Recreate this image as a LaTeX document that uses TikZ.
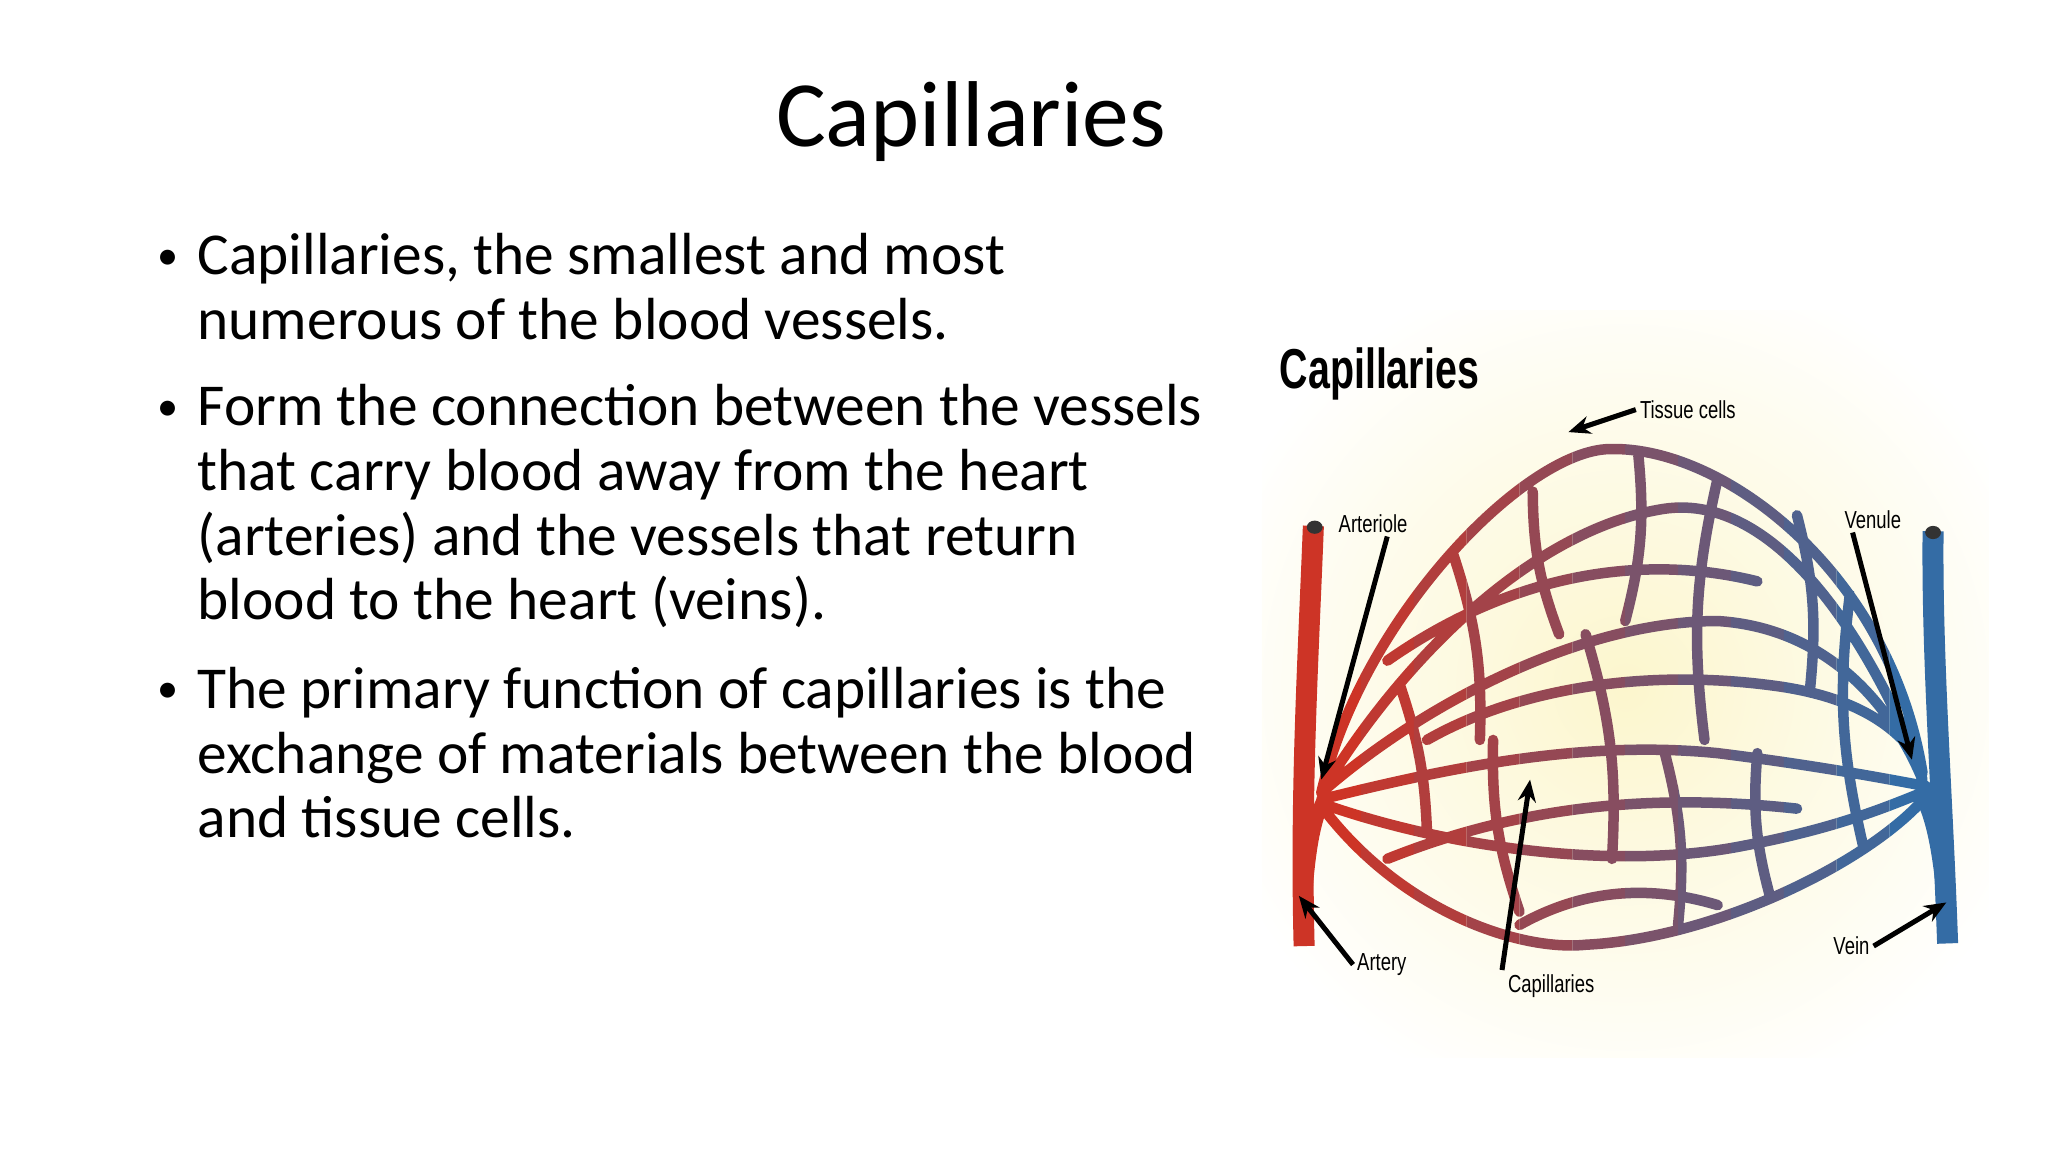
\documentclass[tikz,border=0pt]{standalone}
\usepackage{fontspec}
\setmainfont{Carlito}
\newfontfamily\figfont{Liberation Sans}
\usetikzlibrary{arrows.meta}
\definecolor{bloodred}{RGB}{205,52,38}
\definecolor{bloodblue}{RGB}{52,108,165}
\definecolor{glow}{RGB}{252,246,205}
\newcommand{\network}{%
  (1000,600) .. controls (1030,470) and (1150,345) .. (1215,340) .. controls (1300,335) and (1430,430) .. (1455,585)
  (1000,610) .. controls (1060,690) and (1150,720) .. (1200,715) .. controls (1300,710) and (1420,650) .. (1460,600)
  (1000,600) .. controls (1060,500) and (1160,400) .. (1260,385) .. controls (1330,375) and (1400,450) .. (1455,585)
  (1000,600) .. controls (1080,530) and (1200,470) .. (1300,470) .. controls (1380,475) and (1430,530) .. (1455,590)
  (1000,605) .. controls (1100,580) and (1200,560) .. (1300,570) .. controls (1380,580) and (1430,590) .. (1458,595)
  (1000,608) .. controls (1090,640) and (1220,660) .. (1320,640) .. controls (1400,625) and (1440,605) .. (1460,598)
  (1050,500) .. controls (1150,430) and (1250,420) .. (1330,440)
  (1080,560) .. controls (1150,520) and (1250,505) .. (1350,520) .. controls (1400,528) and (1425,545) .. (1440,560)
  (1050,650) .. controls (1150,610) and (1250,600) .. (1360,612)
  (1150,700) .. controls (1200,672) and (1250,670) .. (1300,685)
  (1100,420) to[bend left=10] (1120,560)
  (1160,372) to[bend right=10] (1180,480)
  (1240,345) to[bend left=10] (1230,470)
  (1300,362) to[bend right=10] (1290,560)
  (1360,390) to[bend left=10] (1370,520)
  (1400,450) to[bend right=10] (1410,640)
  (1200,480) to[bend left=10] (1220,650)
  (1130,560) to[bend right=10] (1150,690)
  (1260,570) to[bend left=10] (1270,700)
  (1330,570) to[bend right=10] (1340,680)
  (1060,520) to[bend left=8] (1080,630)}
\tikzset{
  vessel/.style={line width=1.05mm, line cap=round, line join=round},
  tube/.style={line width=2.1mm, line cap=butt},
  bullettext/.style={anchor=base west, align=left, font=\fontsize{16.9}{18.4}\selectfont, inner sep=0pt},
  bulletdot/.style={anchor=base, font=\fontsize{12}{14}\selectfont, inner sep=0pt},
  figlabel/.style={font=\figfont\fontsize{7}{8}\selectfont, inner sep=1pt},
  pointer/.style={-{Stealth[length=2.2mm,width=1.8mm]}, line width=0.5mm}
}
\begin{document}
\begin{tikzpicture}[x=0.1321mm, y=-0.1321mm]
  \useasboundingbox (0,0) rectangle (1550,872);
  % slide text
  \node (title) at (735,92) {\fontsize{26.6}{30}\selectfont Capillaries};
  \node[bullettext] (b1) at (149,257) {Capillaries, the smallest and most\\numerous of the blood vessels.};
  \node[bullettext] (b2) at (149,469) {Form the connection between the vessels\\that carry blood away from the heart\\(arteries) and the vessels that return\\blood to the heart (veins).};
  \node[bullettext] (b3) at (149,634) {The primary function of capillaries is the\\exchange of materials between the blood\\and tissue cells.};
  \foreach \y/\n in {204/d1,318/d2,532/d3}
    \node[bulletdot] (\n) at (127,\y) {\textbullet};

  % figure background
  \begin{scope}
    \clip (955,235) rectangle (1505,800);
    \shade[inner color=glow, outer color=white] (1230,520) ellipse [x radius=330, y radius=330];
  \end{scope}

  % artery and vein
  \draw[tube, bloodred] (994,398) .. controls (990,500) and (984,600) .. (987,716);
  \draw[tube, bloodred, line width=1.4mm] (987,690) .. controls (990,640) and (995,615) .. (1005,600);
  \fill[black!80] (995,399) ellipse [x radius=6, y radius=5];
  \draw[tube, bloodblue] (1463,402) .. controls (1462,500) and (1470,600) .. (1474,714);
  \draw[tube, bloodblue, line width=1.4mm] (1472,690) .. controls (1468,640) and (1462,615) .. (1452,598);
  \fill[black!80] (1463,403) ellipse [x radius=6, y radius=5];

  % capillary bed, coloured strip by strip
  \foreach \i in {0,...,11} {
    \pgfmathsetmacro{\mixp}{\i*100/11}
    \begin{scope}
      \clip (990+\i*40,300) rectangle (1030+\i*40,740);
      \draw[vessel, color=bloodblue!\mixp!bloodred] \network;
    \end{scope}
  }

  % figure labels
  \node[anchor=west, font=\figfont\bfseries\fontsize{16}{18}\selectfont, inner sep=0pt] (figtitle) at (968,283) {\scalebox{0.7}[1]{Capillaries}};
  \node[figlabel, anchor=west] (tissue) at (1238,310) {\scalebox{0.75}[1]{Tissue cells}};
  \node[figlabel, anchor=west] (arteriole) at (1010,396) {\scalebox{0.75}[1]{Arteriole}};
  \node[figlabel, anchor=east] (venule) at (1442,393) {\scalebox{0.75}[1]{Venule}};
  \node[figlabel, anchor=west] (artery) at (1024,730) {\scalebox{0.75}[1]{Artery}};
  \node[figlabel] (caplabel) at (1174,746) {\scalebox{0.75}[1]{Capillaries}};
  \node[figlabel, anchor=east] (vein) at (1418,716) {\scalebox{0.75}[1]{Vein}};
  \coordinate (tissuetip) at (1187,327);
  \coordinate (arterioletip) at (1000,590);
  \coordinate (venuletip) at (1447,575);
  \coordinate (arterytip) at (983,678);
  \coordinate (captip) at (1158,590);
  \coordinate (veintip) at (1473,683);
  \draw[pointer] (tissue.west) -- (tissuetip);
  \draw[pointer] ([xshift=15]arteriole.south west) -- (arterioletip);
  \draw[pointer] ([xshift=-15]venule.south east) -- (venuletip);
  \draw[pointer] (artery.west) -- (arterytip);
  \draw[pointer] ([xshift=-14]caplabel.north) -- (captip);
  \draw[pointer] (vein.east) -- (veintip);
\end{tikzpicture}
\end{document}
